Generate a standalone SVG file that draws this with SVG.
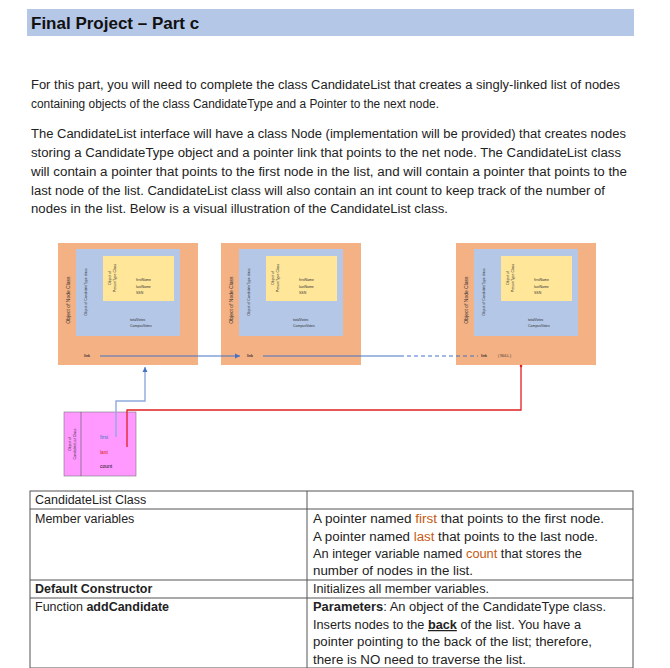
<svg xmlns="http://www.w3.org/2000/svg" width="670" height="668" viewBox="0 0 670 668">
<style>
.t{font-family:"Liberation Sans",Arial,sans-serif;font-size:12.5px;fill:#222}
.b{font-weight:bold}
.o{fill:#c55a11}
.s{font-family:"Liberation Sans",Arial,sans-serif;font-size:3.5px;fill:#333}
.m{font-family:"Liberation Sans",Arial,sans-serif;font-size:5px;fill:#333}
.node{fill:#f4b183}
.ct{fill:#b4c7e7}
.pt{fill:#ffe699}
.ln{stroke:#555;stroke-width:1;fill:none}
</style>
<defs>
<marker id="ab" markerWidth="6" markerHeight="6" refX="5" refY="3" orient="auto" markerUnits="userSpaceOnUse"><path d="M0,0.5 L5,3 L0,5.5z" fill="#4472c4"/></marker>
<marker id="ar" markerWidth="4" markerHeight="4" refX="2" refY="2" orient="auto" markerUnits="userSpaceOnUse"><circle cx="2" cy="2" r="1.3" fill="#e02020"/></marker>
</defs>
<rect width="670" height="668" fill="#fff"/>
<rect x="27" y="9" width="607" height="27" fill="#b4c7e7"/>
<text x="31" y="29" class="t b" style="font-size:17px;fill:#111">Final Project – Part c</text>
<g class="t">
<text x="31" y="89" textLength="589" lengthAdjust="spacingAndGlyphs">For this part, you will need to complete the class CandidateList that creates a singly-linked list of nodes</text>
<text x="31" y="108" textLength="408" lengthAdjust="spacingAndGlyphs">containing objects of the class CandidateType and a Pointer to the next node.</text>
<text x="31" y="138" textLength="595" lengthAdjust="spacingAndGlyphs">The CandidateList interface will have a class Node (implementation will be provided) that creates nodes</text>
<text x="31" y="157" textLength="590" lengthAdjust="spacingAndGlyphs">storing a CandidateType object and a pointer link that points to the net node. The CandidateList class</text>
<text x="31" y="176" textLength="596" lengthAdjust="spacingAndGlyphs">will contain a pointer that points to the first node in the list, and will contain a pointer that points to the</text>
<text x="31" y="195" textLength="574" lengthAdjust="spacingAndGlyphs">last node of the list. CandidateList class will also contain an int count to keep track of the number of</text>
<text x="31" y="213" textLength="417" lengthAdjust="spacingAndGlyphs">nodes in the list. Below is a visual illustration of the CandidateList class.</text>
</g>
<g id="node1">
<rect class="node" x="58" y="243" width="140" height="122"/>
<rect class="ct" x="76" y="249" width="104" height="87"/>
<rect class="pt" x="103" y="256" width="71" height="45"/>
<text class="m" transform="translate(70,300) rotate(-90)" text-anchor="middle">Object of Node Class</text>
<text class="s" transform="translate(87,292) rotate(-90)" text-anchor="middle">Object of CandidateType class</text>
<text class="s" transform="translate(111,278) rotate(-90)" text-anchor="middle">Object of</text>
<text class="s" transform="translate(116,278) rotate(-90)" text-anchor="middle">PersonType Class</text>
<text class="s" x="136" y="281">firstName</text><text class="s" x="136" y="288">lastName</text><text class="s" x="136" y="294">SSN</text>
<text class="s" x="130" y="321">totalVotes</text><text class="s" x="130" y="327">CampusVotes</text>
<text class="s b" x="84" y="357">link</text>
</g>
<g id="node2">
<rect class="node" x="221" y="243" width="140" height="122"/>
<rect class="ct" x="239" y="249" width="104" height="87"/>
<rect class="pt" x="266" y="256" width="71" height="45"/>
<text class="m" transform="translate(233,300) rotate(-90)" text-anchor="middle">Object of Node Class</text>
<text class="s" transform="translate(250,292) rotate(-90)" text-anchor="middle">Object of CandidateType class</text>
<text class="s" transform="translate(274,278) rotate(-90)" text-anchor="middle">Object of</text>
<text class="s" transform="translate(279,278) rotate(-90)" text-anchor="middle">PersonType Class</text>
<text class="s" x="299" y="281">firstName</text><text class="s" x="299" y="288">lastName</text><text class="s" x="299" y="294">SSN</text>
<text class="s" x="293" y="321">totalVotes</text><text class="s" x="293" y="327">CampusVotes</text>
<text class="s b" x="247" y="357">link</text>
</g>
<g id="node3">
<rect class="node" x="456" y="243" width="140" height="122"/>
<rect class="ct" x="474" y="249" width="104" height="87"/>
<rect class="pt" x="501" y="256" width="71" height="45"/>
<text class="m" transform="translate(468,300) rotate(-90)" text-anchor="middle">Object of Node Class</text>
<text class="s" transform="translate(485,292) rotate(-90)" text-anchor="middle">Object of CandidateType class</text>
<text class="s" transform="translate(509,278) rotate(-90)" text-anchor="middle">Object of</text>
<text class="s" transform="translate(514,278) rotate(-90)" text-anchor="middle">PersonType Class</text>
<text class="s" x="534" y="281">firstName</text><text class="s" x="534" y="288">lastName</text><text class="s" x="534" y="294">SSN</text>
<text class="s" x="528" y="321">totalVotes</text><text class="s" x="528" y="327">CampusVotes</text>
<text class="s b" x="481" y="357">link</text>
<text class="s" x="498" y="357">( NULL )</text>
</g>
<g id="list">
<rect x="64" y="412" width="72" height="64" fill="#ff99ff" stroke="#777" stroke-width="0.6"/>
<line x1="81" y1="412" x2="81" y2="476" stroke="#555" stroke-width="0.6"/>
<text class="s" transform="translate(71,444) rotate(-90)" text-anchor="middle">Object of</text>
<text class="s" transform="translate(76,444) rotate(-90)" text-anchor="middle">CandidateList Class</text>
<text class="m" x="100" y="439" style="fill:#4472c4">first</text>
<text class="m" x="100" y="454" style="fill:#e02020">last</text>
<text class="m" x="100" y="468" style="fill:#111">count</text>
</g>
<g id="connectors" fill="none">
<line x1="100" y1="356" x2="240" y2="356" stroke="#4472c4" stroke-width="1" marker-end="url(#ab)"/>
<line x1="263" y1="356" x2="400" y2="356" stroke="#4472c4" stroke-width="1"/>
<line x1="400" y1="356" x2="478" y2="356" stroke="#4472c4" stroke-width="1" stroke-dasharray="4,3"/>
<polyline points="116,437 116,401 145,401 145,367" stroke="#8faadc" stroke-width="1.4" marker-end="url(#ab)"/>
<polyline points="127,447 127,410 521,410 521,366" stroke="#e02020" stroke-width="1.3" marker-end="url(#ar)"/>
</g>
<g id="table">
<g stroke="#555" stroke-width="1">
<rect x="30" y="491" width="603" height="177" fill="none"/>
<line x1="307" y1="491" x2="307" y2="668"/>
<line x1="30" y1="509" x2="633" y2="509"/>
<line x1="30" y1="580" x2="633" y2="580"/>
<line x1="30" y1="598" x2="633" y2="598"/>
</g>
<g class="t">
<text x="35" y="504">CandidateList Class</text>
<text x="35" y="523">Member variables</text>
<text x="35" y="593" class="b">Default Constructor</text>
<text x="35" y="611">Function <tspan class="b">addCandidate</tspan></text>
<text x="313" y="523" textLength="291" lengthAdjust="spacingAndGlyphs">A pointer named <tspan class="o">first</tspan> that points to the first node.</text>
<text x="313" y="541" textLength="285" lengthAdjust="spacingAndGlyphs">A pointer named <tspan class="o">last</tspan> that points to the last node.</text>
<text x="313" y="558" textLength="269" lengthAdjust="spacingAndGlyphs">An integer variable named <tspan class="o">count</tspan> that stores the</text>
<text x="313" y="575" textLength="160" lengthAdjust="spacingAndGlyphs">number of nodes in the list.</text>
<text x="313" y="593" textLength="176" lengthAdjust="spacingAndGlyphs">Initializes all member variables.</text>
<text x="313" y="611" textLength="293" lengthAdjust="spacingAndGlyphs"><tspan class="b">Parameters</tspan>: An object of the CandidateType class.</text>
<text x="313" y="629" textLength="268" lengthAdjust="spacingAndGlyphs">Inserts nodes to the <tspan class="b" text-decoration="underline">back</tspan> of the list. You have a</text>
<text x="313" y="646" textLength="279" lengthAdjust="spacingAndGlyphs">pointer pointing to the back of the list; therefore,</text>
<text x="313" y="664" textLength="213" lengthAdjust="spacingAndGlyphs">there is NO need to traverse the list.</text>
</g>
</g>
</svg>
